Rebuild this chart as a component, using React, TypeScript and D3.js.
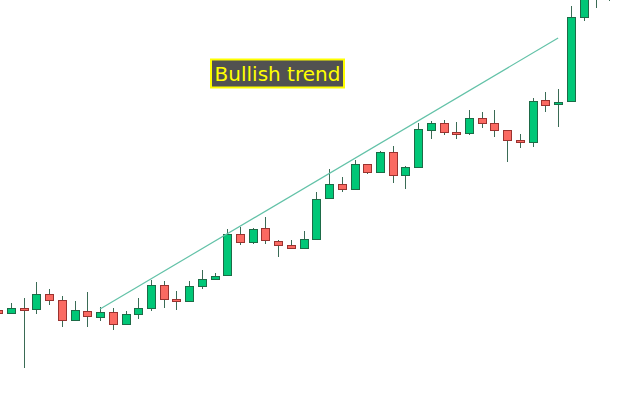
import React from "react";
import * as d3 from "d3";

const W = 640;
const H = 402;

// OHLC candles (arbitrary price units)
const opens = [90, 87.3, 92.3, 91, 106, 100, 80, 89, 83, 88, 76, 86, 92, 115.5, 101.5, 99.5, 114, 121, 125, 166, 158, 172, 159, 155, 152, 161, 202, 216, 211, 236, 228, 248, 225, 233, 270, 277, 268, 267, 282, 277, 270, 260, 258, 300, 296, 299, 383, 405, 415];
const highs = [91, 97, 102, 118, 111, 104, 99, 108, 93, 92, 89, 102, 120, 119, 109, 119, 130, 127, 171, 173, 172, 183, 160, 160, 169, 208, 231, 223, 240, 236, 249, 254, 234, 277, 279, 280, 278, 290, 288, 290, 270, 266, 302, 308, 311, 394, 420, 435, 445];
const lows = [86, 86, 32, 86, 95, 73, 79, 73, 79, 70, 75, 81, 89, 92, 90, 98, 111, 120, 124, 155, 156, 156, 143, 152, 152, 161, 202, 208, 210, 226, 228, 217, 211, 232, 261, 265, 261, 265, 272, 263, 238, 252, 253, 288, 273, 299, 379, 392, 399];
const closes = [87, 92.3, 89.7, 106, 100, 80, 90, 84, 88, 76, 86, 92, 115, 101, 99.5, 114, 121, 124, 166, 158, 171, 160, 155, 152, 161, 201, 216, 211, 236, 228, 248, 225, 233, 271, 277, 268, 266, 282, 277, 270, 260, 258, 299, 295, 298, 383, 415, 430, 440];

// trend line anchors: [candle index, price]
const trendIdx = [8, 44];
const trendPrice = [91, 362];

const labelText = "Bullish trend";

export default function App() {
  const n = opens.length;
  const x = d3.scaleLinear().domain([0, n - 1]).range([-1.7, 609]);
  const y = d3.scaleLinear().domain([0, 400]).range([400, 0]);
  const bodyW = 8;

  const candles = opens.map((o, i) => {
    const c = closes[i];
    const up = c >= o;
    return { i, o, c, h: highs[i], l: lows[i], up };
  });

  const line = d3
    .line<number>()
    .x((_, k) => x(trendIdx[k]))
    .y((p) => y(p));

  return (
    <svg
      width={W}
      height={H}
      style={{ position: "absolute", left: 0, top: 0, background: "#ffffff" }}
    >
      <rect x={0} y={0} width={W} height={H} fill="#ffffff" />
      <g>
        {candles.map((d) => {
          const cx = Math.round(x(d.i)) + 0.5;
          const top = y(Math.max(d.o, d.c));
          const bot = y(Math.min(d.o, d.c));
          const fill = d.up ? "#00c777" : "#fa6a62";
          const stroke = d.up ? "#1d6b47" : "#9a3330";
          return (
            <g key={d.i}>
              <line
                x1={cx}
                x2={cx}
                y1={y(d.h)}
                y2={y(d.l)}
                stroke="#3a6b55"
                strokeWidth={1}
              />
              <rect
                x={cx - bodyW / 2}
                y={Math.round(top) + 0.5}
                width={bodyW}
                height={Math.max(1, Math.round(bot) - Math.round(top))}
                fill={fill}
                stroke={stroke}
                strokeWidth={1}
              />
            </g>
          );
        })}
      </g>
      <path d={line(trendPrice) || ""} fill="none" stroke="#63c2a8" strokeWidth={1.2} />
      <g>
        <rect x={211} y={59.5} width={133} height={28} fill="#515151" stroke="#ffff00" strokeWidth={2} />
        <text
          x={277.5}
          y={81}
          textAnchor="middle"
          fill="#ffff00"
          fontFamily="DejaVu Sans, sans-serif"
          fontSize={20}
        >
          {labelText}
        </text>
      </g>
    </svg>
  );
}
